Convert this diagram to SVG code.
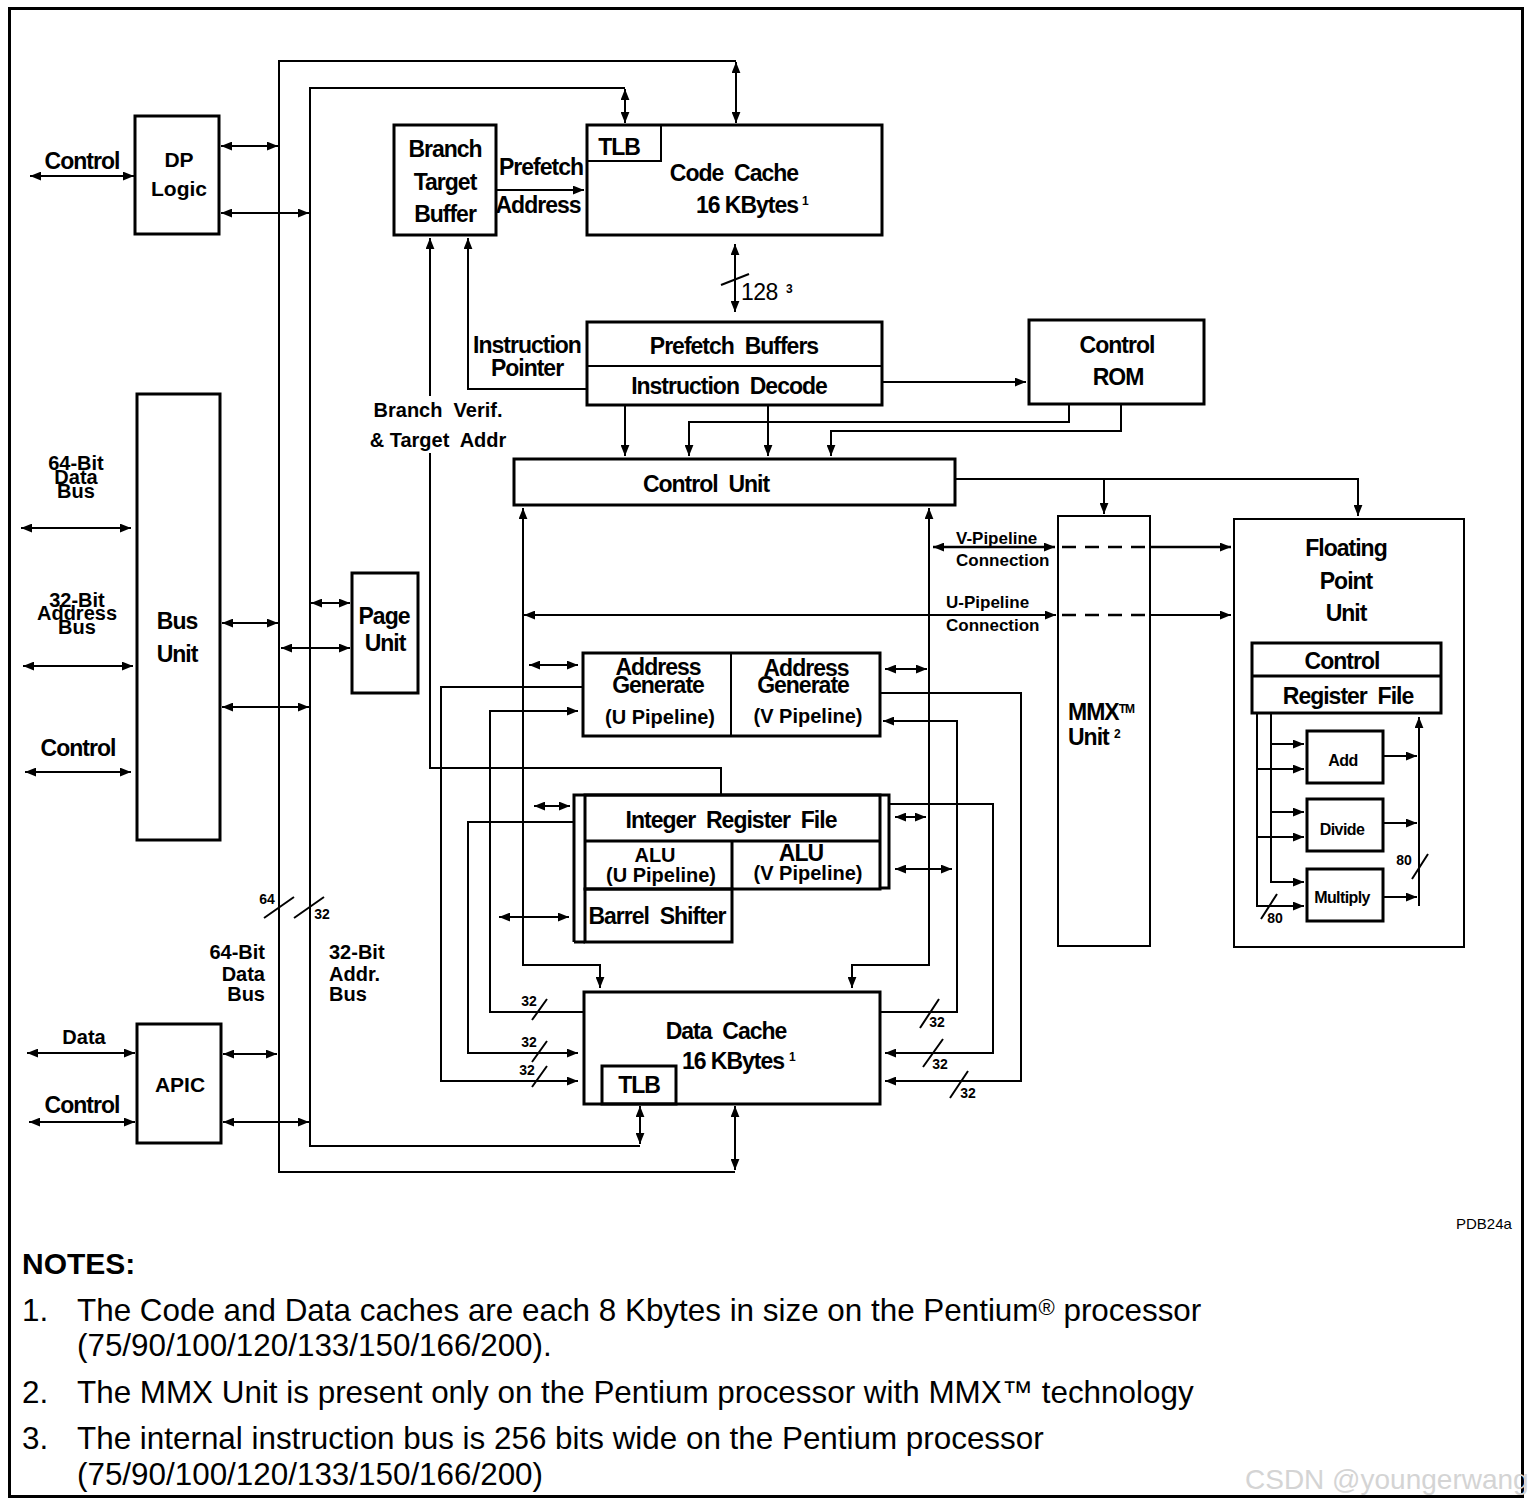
<svg xmlns="http://www.w3.org/2000/svg" width="1528" height="1504" viewBox="0 0 1528 1504" xml:space="preserve">
<defs>
<marker id="ah" viewBox="0 0 10 8" refX="10" refY="4" markerWidth="11" markerHeight="9" markerUnits="userSpaceOnUse" orient="auto-start-reverse"><path d="M0,0 L10,4 L0,8 z" fill="#000"/></marker>
<style>
text{font-family:"Liberation Sans",Arial,Helvetica,sans-serif;fill:#000;white-space:pre}
.b{font-weight:bold}
.c{font-size:23px;letter-spacing:-1px;font-weight:bold}
.m{font-size:20px;font-weight:bold}
.n{font-size:21px;font-weight:bold}
.p{font-size:17px;font-weight:bold}
.s{font-size:14px;font-weight:bold}
.f{font-size:16px;font-weight:bold;letter-spacing:-0.6px}
.sup{font-size:12px;font-weight:bold}
.mid{text-anchor:middle}
.end{text-anchor:end}
.box{fill:none;stroke:#000;stroke-width:3}
.thin{fill:none;stroke:#000;stroke-width:2}
.w{fill:none;stroke:#000;stroke-width:2}
.a2{marker-start:url(#ah);marker-end:url(#ah)}
.a1{marker-end:url(#ah)}
.as{marker-start:url(#ah)}
.dash{fill:none;stroke:#000;stroke-width:2.5;stroke-dasharray:14 9}
.note{font-size:31.4px}
</style>
</defs>
<rect x="0" y="0" width="1528" height="1504" fill="#fff"/>
<rect x="9.5" y="8.5" width="1513" height="1488" fill="none" stroke="#000" stroke-width="3"/>

<g id="connectors">
<path class="w" d="M736,61 H279 V1172 H735"/>
<path class="w a2" d="M736,62 V123"/>
<path class="w a2" d="M735,1170 V1106"/>
<path class="w" d="M625,88 H310 V1146 H640"/>
<path class="w a2" d="M625,89 V123"/>
<path class="w a2" d="M640,1144 V1106"/>
<path class="w" d="M264,918 L294,897 M294,918 L324,897"/>
<path class="w a2" d="M30,176 H134"/>
<path class="w a2" d="M221,146 H278"/>
<path class="w a2" d="M221,213 H309"/>
<path class="w a2" d="M21,528 H131"/>
<path class="w a2" d="M23,666 H133"/>
<path class="w a2" d="M25,772 H131"/>
<path class="w a2" d="M222,623 H278"/>
<path class="w a2" d="M222,707 H309"/>
<path class="w a2" d="M311,603 H350"/>
<path class="w a2" d="M281,648 H350"/>
<path class="w a2" d="M27,1053 H135"/>
<path class="w a2" d="M29,1122 H135"/>
<path class="w a2" d="M223,1054 H277"/>
<path class="w a2" d="M223,1122 H309"/>
<path class="w a1" d="M497,190 H584"/>
<path class="w a1" d="M430,396 V238"/>
<path class="w" d="M430,453 V768 H721 V794"/>
<path class="w a1" d="M587,389 H468 V238"/>
<path class="w a2" d="M735,244 V312"/>
<path class="w" d="M721,285 L749,274"/>
<path class="w a1" d="M882,382 H1026"/>
<path class="w a1" d="M625,405 V456"/>
<path class="w a1" d="M768,405 V456"/>
<path class="w a1" d="M1069,404 V422 H689 V456"/>
<path class="w a1" d="M1121,404 V431 H831 V456"/>
<path class="w a1" d="M955,479 H1358 V516"/>
<path class="w a1" d="M1104,479 V514"/>
<path class="w a2" d="M600,988 V965 H523 V508"/>
<path class="w a2" d="M852,988 V965 H929 V508"/>
<path class="w a2" d="M524,615 H1056"/>
<path class="dash" d="M1062,615 H1148"/>
<path class="w a1" d="M1150,615 H1231"/>
<path class="w a2" style="stroke-width:2.5" d="M933,547 H1055"/>
<path class="dash" d="M1062,547 H1148"/>
<path class="w a1" style="stroke-width:2.5" d="M1150,547 H1231"/>
<path class="w a2" d="M529,665 H578"/>
<path class="w a1" d="M583,687 H441 V1081 H578"/>
<path class="w as" d="M578,711 H490 V1012 H583"/>
<path class="w a2" d="M885,669 H927"/>
<path class="w a1" d="M880,693 H1021 V1081 H885"/>
<path class="w as" d="M883,721 H957 V1012 H880"/>
<path class="w a2" d="M534,806 H570"/>
<path class="w a1" d="M574,822 H468 V1053 H578"/>
<path class="w a2" d="M499,917 H569"/>
<path class="w a1" d="M889,804 H993 V1053 H885"/>
<path class="w a2" d="M895,817 H926"/>
<path class="w a2" d="M895,869 H952"/>
<path class="w" d="M532,1020 L547,999 M532,1062 L547,1041 M532,1087 L547,1066"/>
<path class="w" d="M920,1028 L939,999 M923,1067 L943,1039 M950,1098 L968,1071"/>
<path class="w a1" d="M1257,713 V906 H1304"/>
<path class="w a1" d="M1257,769 H1304"/>
<path class="w a1" d="M1257,837 H1304"/>
<path class="w a1" d="M1271,713 V882 H1304"/>
<path class="w a1" d="M1271,744 H1304"/>
<path class="w a1" d="M1271,812 H1304"/>
<path class="w a1" d="M1384,756 H1417"/>
<path class="w a1" d="M1384,823 H1417"/>
<path class="w a1" d="M1384,897 H1417"/>
<path class="w a1" d="M1419,906 V717"/>
<path class="w" d="M1261,919 L1277,894 M1412,879 L1428,854"/>
</g>

<g id="dp-logic">
<rect class="box" x="135" y="116" width="84" height="118"/>
<text class="n mid" x="179" y="167">DP</text>
<text class="n mid" x="179" y="196">Logic</text>
</g>
<g id="btb">
<rect class="box" x="394" y="125" width="102" height="110"/>
<text class="c mid" x="445" y="157">Branch</text>
<text class="c mid" x="445" y="190">Target</text>
<text class="c mid" x="445" y="222">Buffer</text>
</g>
<g id="code-cache">
<rect class="box" x="587" y="125" width="295" height="110"/>
<rect class="thin" x="587" y="125" width="74" height="36"/>
<text class="c mid" x="619" y="155">TLB</text>
<text class="c mid" x="734" y="181">Code  Cache</text>
<text class="c mid" x="747" y="213">16 KBytes</text>
<text class="sup" x="802" y="205">1</text>
</g>
<g id="prefetch-decode">
<rect class="box" x="587" y="322" width="295" height="83"/>
<line x1="587" y1="366" x2="882" y2="366" stroke="#000" stroke-width="2"/>
<text class="c mid" x="734" y="354">Prefetch  Buffers</text>
<text class="c mid" x="729" y="394">Instruction  Decode</text>
</g>
<g id="control-rom">
<rect class="box" x="1029" y="320" width="175" height="84"/>
<text class="c mid" x="1117" y="353">Control</text>
<text class="c mid" x="1118" y="385">ROM</text>
</g>
<g id="control-unit">
<rect class="box" x="514" y="459" width="441" height="46"/>
<text class="c mid" x="706" y="492">Control  Unit</text>
</g>
<g id="bus-unit">
<rect class="box" x="137" y="394" width="83" height="446"/>
<text class="c mid" x="177" y="629">Bus</text>
<text class="c mid" x="177" y="662">Unit</text>
</g>
<g id="page-unit">
<rect class="box" x="352" y="573" width="66" height="120"/>
<text class="c mid" x="384" y="624">Page</text>
<text class="c mid" x="385" y="651">Unit</text>
</g>
<g id="address-generate">
<rect class="box" x="583" y="653" width="297" height="83"/>
<line x1="731" y1="653" x2="731" y2="736" stroke="#000" stroke-width="2"/>
<text class="c mid" x="658" y="675">Address</text>
<text class="c mid" x="658" y="693">Generate</text>
<text class="m mid" x="660" y="724">(U Pipeline)</text>
<text class="c mid" x="806" y="676">Address</text>
<text class="c mid" x="803" y="693">Generate</text>
<text class="m mid" x="808" y="723">(V Pipeline)</text>
</g>
<g id="integer-register-file">
<path class="box" d="M574,942 V795 H889 V888 H880 M574,942 H585"/>
<rect class="box" x="585" y="795" width="295" height="94"/>
<line x1="585" y1="841" x2="880" y2="841" stroke="#000" stroke-width="3"/>
<line x1="732" y1="841" x2="732" y2="889" stroke="#000" stroke-width="3"/>
<rect class="box" x="585" y="889" width="147" height="53"/>
<text class="c mid" x="731" y="828">Integer  Register  File</text>
<text class="m mid" x="655" y="862">ALU</text>
<text class="m mid" x="661" y="882">(U Pipeline)</text>
<text class="c mid" x="801" y="861">ALU</text>
<text class="m mid" x="808" y="880">(V Pipeline)</text>
<text class="c mid" x="657" y="924">Barrel  Shifter</text>
</g>
<g id="mmx-unit">
<rect class="thin" x="1058" y="516" width="92" height="430"/>
<text class="c" x="1068" y="720">MMX<tspan class="sup" dy="-7">TM</tspan></text>
<text class="c" x="1068" y="745">Unit <tspan class="sup" dy="-7">2</tspan></text>
</g>
<g id="fpu">
<rect class="thin" x="1234" y="519" width="230" height="428"/>
<text class="c mid" x="1346" y="556">Floating</text>
<text class="c mid" x="1346" y="589">Point</text>
<text class="c mid" x="1346" y="621">Unit</text>
<rect class="box" x="1252" y="643" width="189" height="70"/>
<line x1="1252" y1="676" x2="1441" y2="676" stroke="#000" stroke-width="3"/>
<text class="c mid" x="1342" y="669">Control</text>
<text class="c mid" x="1348" y="704">Register  File</text>
</g>
<g id="fpu-add">
<rect class="box" x="1307" y="731" width="76" height="52"/>
<text class="f mid" x="1343" y="766">Add</text>
</g>
<g id="fpu-divide">
<rect class="box" x="1307" y="799" width="76" height="52"/>
<text class="f mid" x="1342" y="835">Divide</text>
</g>
<g id="fpu-multiply">
<rect class="box" x="1307" y="869" width="76" height="52"/>
<text class="f mid" x="1342" y="903">Multiply</text>
</g>
<g id="apic">
<rect class="box" x="137" y="1024" width="84" height="119"/>
<text class="n mid" x="180" y="1092">APIC</text>
</g>
<g id="data-cache">
<rect class="box" x="584" y="992" width="296" height="112"/>
<rect class="box" x="602" y="1066" width="74" height="38"/>
<text class="c mid" x="726" y="1039">Data  Cache</text>
<text class="c mid" x="733" y="1069">16 KBytes</text>
<text class="sup" x="789" y="1061">1</text>
<text class="c mid" x="639" y="1093">TLB</text>
</g>

<g id="labels">
<text class="c mid" x="82" y="169">Control</text>
<text class="c mid" x="541" y="175">Prefetch</text>
<text class="c mid" x="538" y="213">Address</text>
<text style="font-size:23px;letter-spacing:-0.5px" x="741" y="300">128</text>
<text class="sup" x="786" y="293">3</text>
<text class="c mid" x="527" y="353">Instruction</text>
<text class="c mid" x="527" y="376">Pointer</text>
<text class="m mid" x="438" y="417">Branch  Verif.</text>
<text class="m mid" x="438" y="447">&amp; Target  Addr</text>
<text class="m mid" x="76" y="470">64-Bit</text>
<text class="m mid" x="76" y="484">Data</text>
<text class="m mid" x="76" y="498">Bus</text>
<text class="m mid" x="77" y="607">32-Bit</text>
<text class="m mid" x="77" y="620">Address</text>
<text class="m mid" x="77" y="634">Bus</text>
<text class="c mid" x="78" y="756">Control</text>
<text class="p" x="956" y="544">V-Pipeline</text>
<text class="p" x="956" y="566">Connection</text>
<text class="p" x="946" y="608">U-Pipeline</text>
<text class="p" x="946" y="631">Connection</text>
<text class="s mid" x="1404" y="865">80</text>
<text class="s mid" x="1275" y="923">80</text>
<text class="s mid" x="267" y="904">64</text>
<text class="s mid" x="322" y="919">32</text>
<text class="m end" x="265" y="959">64-Bit</text>
<text class="m end" x="265" y="981">Data</text>
<text class="m end" x="265" y="1001">Bus</text>
<text class="m" x="329" y="959">32-Bit</text>
<text class="m" x="329" y="981">Addr.</text>
<text class="m" x="329" y="1001">Bus</text>
<text class="m mid" x="84" y="1044">Data</text>
<text class="c mid" x="82" y="1113">Control</text>
<text class="s mid" x="529" y="1006">32</text>
<text class="s mid" x="529" y="1047">32</text>
<text class="s mid" x="527" y="1075">32</text>
<text class="s mid" x="937" y="1027">32</text>
<text class="s mid" x="940" y="1069">32</text>
<text class="s mid" x="968" y="1098">32</text>
<text style="font-size:15px" x="1456" y="1229">PDB24a</text>
</g>

<g id="notes">
<text class="b" style="font-size:30px" x="22" y="1274">NOTES:</text>
<text class="note" x="22" y="1321">1.</text>
<text class="note" x="77" y="1321">The Code and Data caches are each 8 Kbytes in size on the Pentium<tspan style="font-size:22px" dy="-6">®</tspan><tspan dy="6"> processor</tspan></text>
<text class="note" x="77" y="1356">(75/90/100/120/133/150/166/200).</text>
<text class="note" x="22" y="1403">2.</text>
<text class="note" x="77" y="1403">The MMX Unit is present only on the Pentium processor with MMX™ technology</text>
<text class="note" x="22" y="1449">3.</text>
<text class="note" x="77" y="1449">The internal instruction bus is 256 bits wide on the Pentium processor</text>
<text class="note" x="77" y="1485">(75/90/100/120/133/150/166/200)</text>
</g>
<text style="font-size:28px;fill:#d4d4d4" x="1245" y="1489">CSDN @youngerwang</text>
</svg>
